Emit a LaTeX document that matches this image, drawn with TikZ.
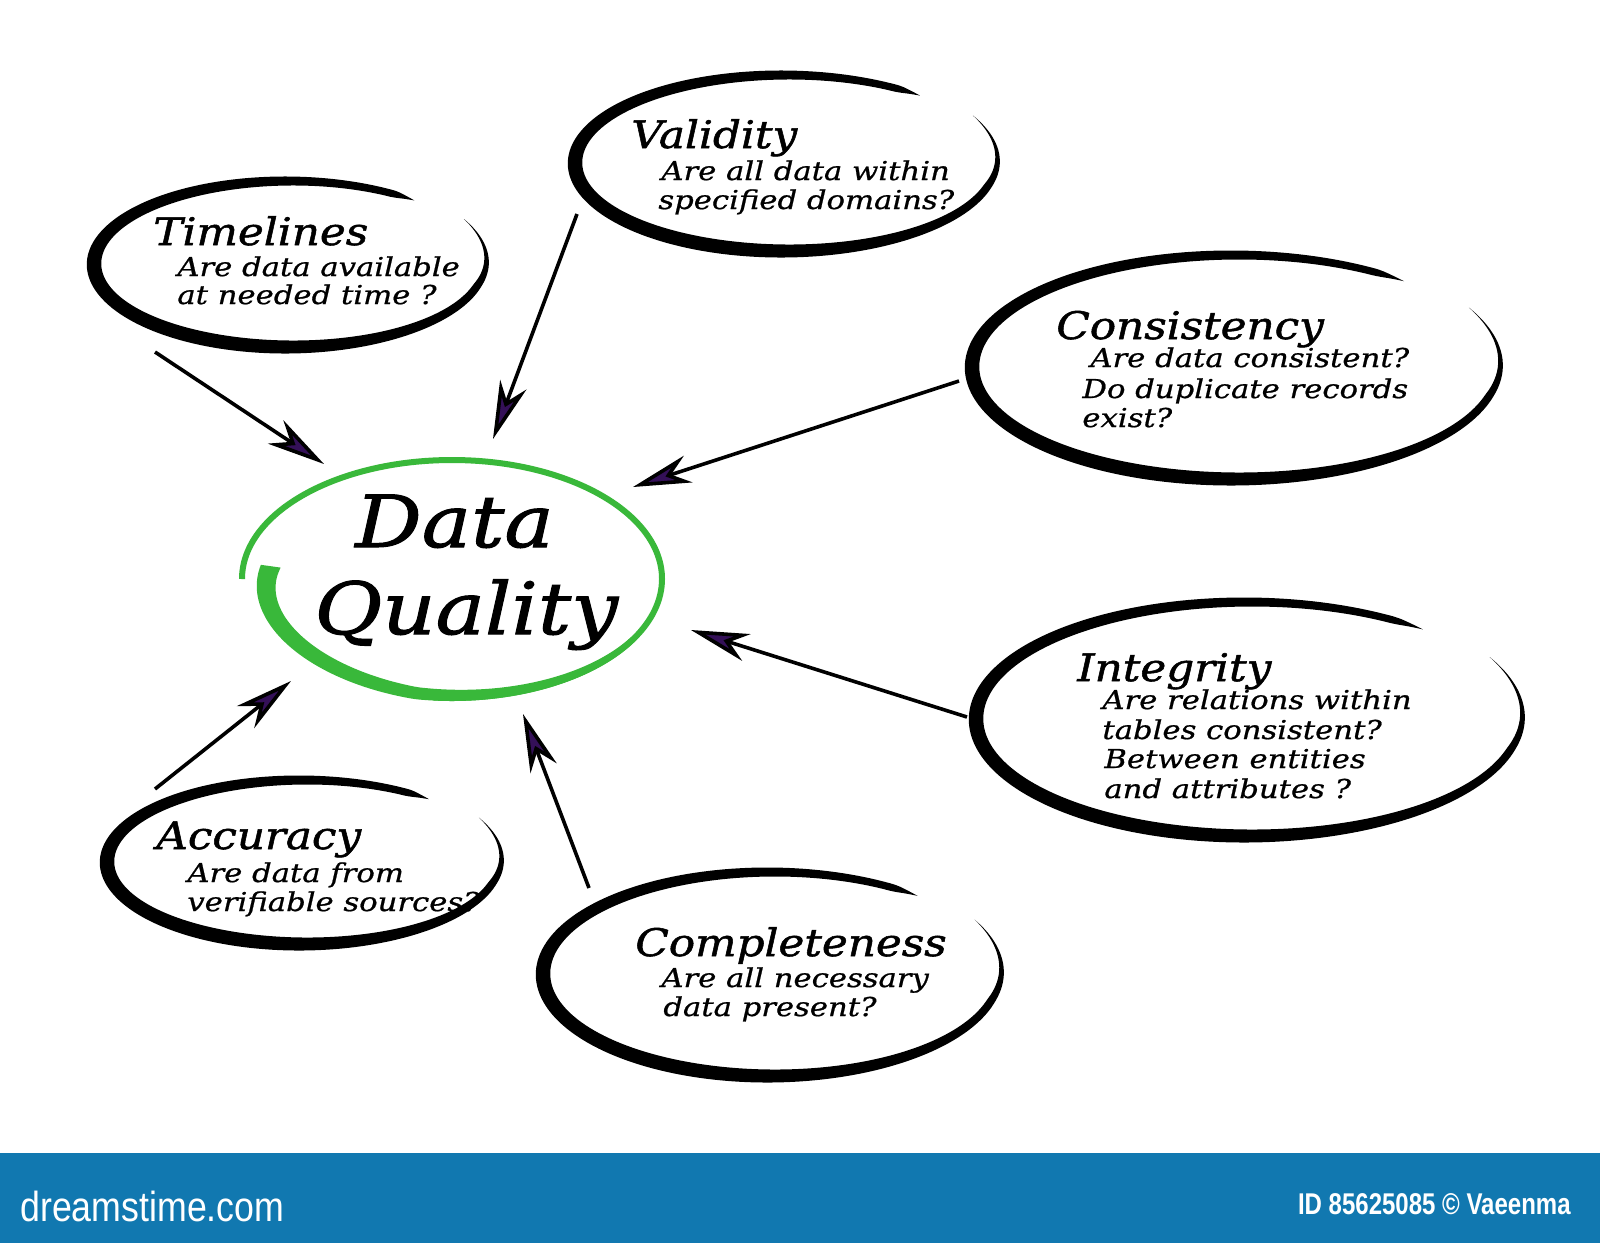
\documentclass[tikz,border=0pt]{standalone}
\usepackage{fontspec}
\usetikzlibrary{arrows.meta}
\newfontfamily\hand[FakeStretch=1.18,FakeBold=0.8]{DejaVu Serif}
\newfontfamily\handb[FakeStretch=1.15,FakeBold=1.4]{DejaVu Serif}
\newfontfamily\footfont{Liberation Sans}
\definecolor{dqgreen}{RGB}{57,184,58}
\definecolor{footblue}{RGB}{17,120,176}
\definecolor{headpurple}{RGB}{52,16,88}
\tikzset{declare function={
  bw(\t)=(7+8*(1-cos(\t-30))/2)*min(1,(\t-50)/7,(390-\t)/45);
  bo(\t)=7*max(0,(\t-345)/45);
  goo(\t)=max(-3,20*(260-\t)/88-3);
  gww(\t)=6+14*(330-\t)/158;}}
% brush ellipse: #1 cx, #2 cy, #3 rx, #4 ry
\newcommand\brushell[4]{%
  \fill[black] plot[domain=50:390,samples=170,smooth]
      ({#1+(#3+bo(\x)+0.5*bw(\x))*cos(\x)},{#2-(#4+bo(\x)+0.5*bw(\x))*sin(\x)})
    -- plot[domain=390:50,samples=170,smooth]
      ({#1+(#3+bo(\x)-0.5*bw(\x))*cos(\x)},{#2-(#4+bo(\x)-0.5*bw(\x))*sin(\x)}) -- cycle;
}
\begin{document}
\begin{tikzpicture}[x=0.5pt,y=-0.5pt,
  ttl/.style={anchor=base west,inner sep=0pt,font=\handb\itshape\fontsize{19}{22}\selectfont},
  bdy/.style={anchor=base west,inner sep=0pt,font=\hand\itshape\fontsize{13}{15}\selectfont},
  dq/.style={anchor=base west,inner sep=0pt,font=\handb\itshape\fontsize{36}{42}\selectfont},
  arr/.style={line width=1.8pt,-{Stealth[length=29pt,width=14pt,inset=9pt,fill=headpurple]}},
  foot/.style={inner sep=0pt,text=white}]
\fill[white] (0,0) rectangle (1600,1243);
\useasboundingbox (0,0) rectangle (1600,1243);

% ellipses
\brushell{289}{264}{195}{83}
\brushell{785}{163}{210}{88}
\brushell{1235}{367}{263}{112}
\brushell{1248}{719}{272}{117}
\brushell{303}{862}{196}{82}
\brushell{771}{974}{228}{102}
% green ellipse: thin stroke plus thick tapered tail
\draw[dqgreen,line width=3pt] (452,579) ++(-180:210 and 119)
  arc[start angle=-180,end angle=95,x radius=210,y radius=119];
\fill[dqgreen] plot[domain=172:330,samples=90,smooth]
    ({452+(210-goo(\x))*cos(\x)},{579-(119-goo(\x))*sin(\x)})
  -- plot[domain=330:172,samples=90,smooth]
    ({452+(210-goo(\x)-gww(\x))*cos(\x)},{579-(119-goo(\x)-gww(\x))*sin(\x)})
  -- cycle;

% central text
\node[dq] (dqa) at (355,547) {Data};
\node[dq] (dqb) at (314,634) {Quality};

% Timelines
\node[ttl] (tlt) at (153,245) {Timelines};
\node[bdy] (tl1) at (177,276) {Are data available};
\node[bdy] (tl2) at (177,304) {at needed time ?};
% Validity
\node[ttl] (vat) at (631,148) {Validity};
\node[bdy] (va1) at (661,180) {Are all data within};
\node[bdy] (va2) at (658,209) {specified domains?};
% Consistency
\node[ttl] (cot) at (1056,339) {Consistency};
\node[bdy] (co1) at (1090,367) {Are data consistent?};
\node[bdy] (co2) at (1082,398) {Do duplicate records};
\node[bdy] (co3) at (1082,427) {exist?};
% Integrity
\node[ttl] (int) at (1077,681) {Integrity};
\node[bdy] (in1) at (1102,709) {Are relations within};
\node[bdy] (in2) at (1102,739) {tables consistent?};
\node[bdy] (in3) at (1104,768) {Between entities};
\node[bdy] (in4) at (1104,798) {and attributes ?};
% Accuracy
\node[ttl] (act) at (156,849) {Accuracy};
\node[bdy] (ac1) at (187,882) {Are data from};
\node[bdy] (ac2) at (187,911) {verifiable sources?};
% Completeness
\node[ttl] (cmt) at (635,956) {Completeness};
\node[bdy] (cm1) at (661,987) {Are all necessary};
\node[bdy] (cm2) at (663,1016) {data present?};

% arrows
\coordinate (tlA) at (155,352);  \coordinate (tlB) at (324,464);
\coordinate (vaA) at (577,214);  \coordinate (vaB) at (493,439);
\coordinate (coA) at (959,381);  \coordinate (coB) at (633,487);
\coordinate (inA) at (967,717);  \coordinate (inB) at (691,630);
\coordinate (cmA) at (589,888);  \coordinate (cmB) at (523,714);
\coordinate (acA) at (155,789);  \coordinate (acB) at (291,681);
\draw[arr] (tlA) -- (tlB);
\draw[arr] (vaA) -- (vaB);
\draw[arr] (coA) -- (coB);
\draw[arr] (inA) -- (inB);
\draw[arr] (cmA) -- (cmB);
\draw[arr] (acA) -- (acB);

% footer
\fill[footblue] (0,1153) rectangle (1600,1243);
\node[foot,anchor=west,font=\footfont\fontsize{21}{24}\selectfont] (ds) at (20,1206) {\scalebox{0.85}[1]{dreamstime.com}};
\node[foot,anchor=east,font=\footfont\bfseries\fontsize{15}{18}\selectfont] (idn) at (1571,1204) {\scalebox{0.8}[1]{ID 85625085 © Vaeenma}};
\end{tikzpicture}
\end{document}
